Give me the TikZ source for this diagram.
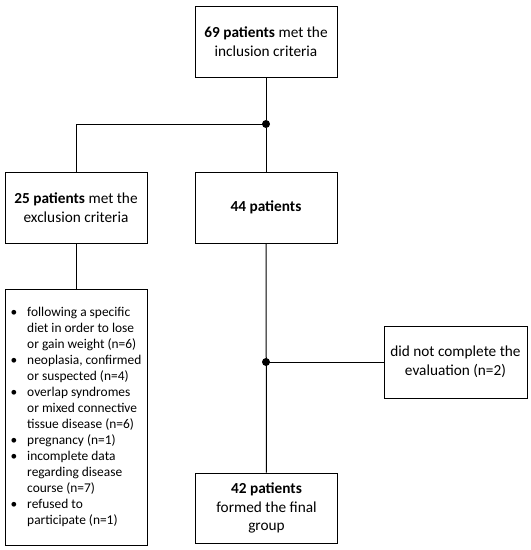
\documentclass[tikz,border=0pt]{standalone}
\usepackage{fontspec}
\setmainfont{Carlito}
\tikzset{
  box/.style={draw, line width=1pt, minimum width=142pt, minimum height=71pt, align=center, inner sep=2pt, font=\fontsize{15.3}{18.8}\selectfont},
  link/.style={line width=1pt},
  dot/.style={circle, fill=black, inner sep=0pt, minimum size=8pt}
}
\begin{document}
\begin{tikzpicture}[x=1pt,y=1pt]
		\useasboundingbox (0,0) rectangle (531,-550);
		%Boxes
		\node[box] (top) at (266,-41.5) {\textbf{69 patients} met the\\inclusion criteria};
		\node[box] (excl) at (76,-207.5) {\textbf{25 patients} met the\\exclusion criteria};
		\node[box] (mid) at (266,-207.5) {\textbf{44 patients}};
		\node[box, minimum height=256pt, align=left, font=\fontsize{13.4}{16}\selectfont] (list) at (76,-417) {%
			\begin{tabular}{@{}l@{\hspace{10pt}}l@{}}
			\textbullet & following a specific\\
			 & diet in order to lose\\
			 & or gain weight (n=6)\\
			\textbullet & neoplasia, confirmed\\
			 & or suspected (n=4)\\
			\textbullet & overlap syndromes\\
			 & or mixed connective\\
			 & tissue disease (n=6)\\
			\textbullet & pregnancy (n=1)\\
			\textbullet & incomplete data\\
			 & regarding disease\\
			 & course (n=7)\\
			\textbullet & refused to\\
			 & participate (n=1)
			\end{tabular}};
		\node[box, minimum width=143pt, minimum height=72pt] (drop) at (455.5,-362) {did not complete the\\evaluation (n=2)};
		\node[box, minimum height=70pt] (final) at (266.5,-508) {\textbf{42 patients}\\formed the final\\group};
		%Junctions
		\node[dot] (j1) at (266,-124) {};
		\node[dot] (j2) at (266,-362) {};
		%Lines
		\draw[link] (top) -- (j1);
		\draw[link] (j1) -- (mid);
		\draw[link] (j1.center) -| (excl.north);
		\draw[link] (excl) -- (list);
		\draw[link] (mid) -- (final);
		\draw[link] (j2.center) -- (drop.west);
		\end{tikzpicture}
\end{document}
